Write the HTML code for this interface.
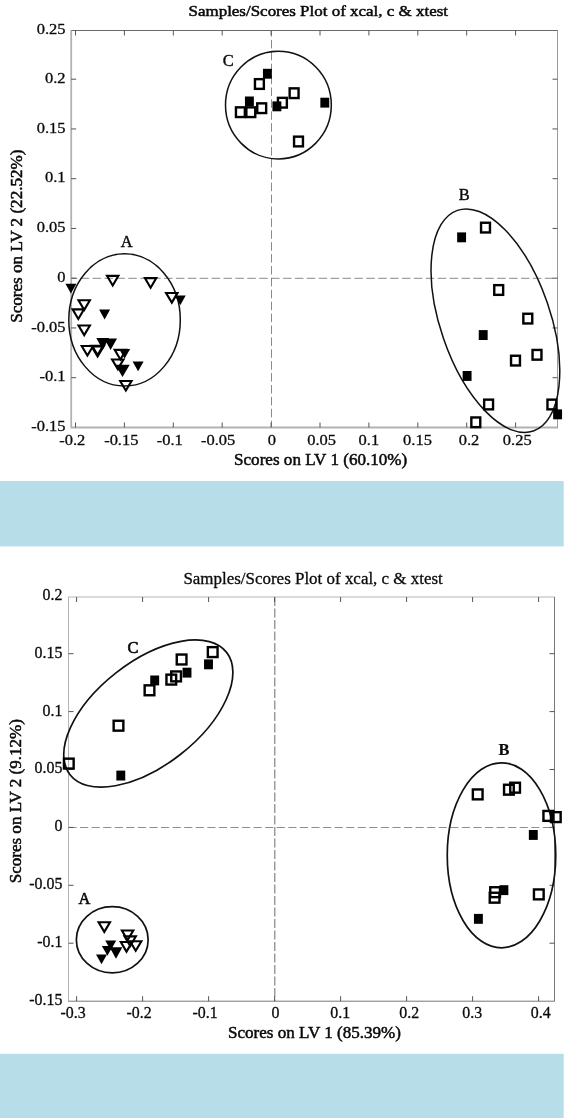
<!DOCTYPE html>
<html lang="en"><head><meta charset="utf-8"><title>Samples/Scores Plot</title>
<style>
html,body{margin:0;padding:0;background:#fff;}
body{width:565px;height:1118px;overflow:hidden;}
svg{display:block;}
text{font-family:"Liberation Serif","DejaVu Serif",serif;fill:#0a0a0a;stroke:#0a0a0a;stroke-width:.4px;}
.t{font-size:14.8px;stroke-width:.3px;}
.l{font-size:15.3px;stroke-width:.5px;}
.g{font-size:16.4px;stroke-width:.4px;}
.ax{stroke:#858585;stroke-width:1;fill:none;}
.tk{stroke:#555;stroke-width:1;fill:none;}
.ds{stroke:#6c6c6c;stroke-width:.8;fill:none;stroke-dasharray:8.5 3.4;}
.el{stroke:#111;stroke-width:1.5;fill:none;}
.fs{fill:#000;}
.os{fill:none;stroke:#000;stroke-width:2.4;}
.ft{fill:#000;}
.ot{fill:none;stroke:#000;stroke-width:2.1;stroke-linejoin:miter;}
.ot2{fill:none;stroke:#000;stroke-width:3.6;stroke-linejoin:miter;}
.ot3{fill:none;stroke:#000;stroke-width:2.9;stroke-linejoin:miter;}
</style></head><body>
<svg width="565" height="1118" viewBox="0 0 565 1118">
<rect x="0" y="0" width="565" height="1118" fill="#fff"/>
<rect x="0" y="481" width="563.7" height="65.4" fill="#b7dde8"/>
<rect x="0" y="1053.8" width="563.7" height="64.2" fill="#b7dde8"/>
<g>
<text class="l" style="font-size:15.3px;stroke-width:0.5px" x="188.5" y="15.8" textLength="259.5" lengthAdjust="spacingAndGlyphs">Samples/Scores Plot of xcal, c &amp; xtest</text>
<path class="ds" stroke-dashoffset="2.4" d="M71.2 278.3H557.5"/>
<path class="ds" stroke-dashoffset="2.5" d="M271.5 30.5V427.5"/>
<path fill="none" stroke="#6a6a6a" stroke-width="1" d="M70.7 30.5H558"/>
<path fill="none" stroke="#b2b2b2" stroke-width="1.8" d="M70.7 427.5H558"/>
<path fill="none" stroke="#b2b2b2" stroke-width="1.8" d="M71.2 30.5V427.5"/>
<path fill="none" stroke="#9a9a9a" stroke-width="1" d="M557.5 30.5V427.5"/>
<path class="tk" d="M75.5 427.5v-5M75.5 30.5v5M124.4 427.5v-5M124.4 30.5v5M173.3 427.5v-5M173.3 30.5v5M222.2 427.5v-5M222.2 30.5v5M271.1 427.5v-5M271.1 30.5v5M320 427.5v-5M320 30.5v5M368.9 427.5v-5M368.9 30.5v5M417.8 427.5v-5M417.8 30.5v5M466.7 427.5v-5M466.7 30.5v5M515.6 427.5v-5M515.6 30.5v5M71.2 79.2h5M557.5 79.2h-5M71.2 128.95h5M557.5 128.95h-5M71.2 178.7h5M557.5 178.7h-5M71.2 228.45h5M557.5 228.45h-5M71.2 278.2h5M557.5 278.2h-5M71.2 327.95h5M557.5 327.95h-5M71.2 377.7h5M557.5 377.7h-5"/>
<text class="t" style="font-size:14.6px" transform="translate(72.3 444.8) scale(1.13 1)" text-anchor="middle">-0.2</text>
<text class="t" style="font-size:14.6px" transform="translate(121.3 444.8) scale(1.13 1)" text-anchor="middle">-0.15</text>
<text class="t" style="font-size:14.6px" transform="translate(169.7 444.8) scale(1.13 1)" text-anchor="middle">-0.1</text>
<text class="t" style="font-size:14.6px" transform="translate(218.1 444.8) scale(1.13 1)" text-anchor="middle">-0.05</text>
<text class="t" style="font-size:14.6px" transform="translate(271.9 444.8) scale(1.13 1)" text-anchor="middle">0</text>
<text class="t" style="font-size:14.6px" transform="translate(321.6 444.8) scale(1.13 1)" text-anchor="middle">0.05</text>
<text class="t" style="font-size:14.6px" transform="translate(368.9 444.8) scale(1.13 1)" text-anchor="middle">0.1</text>
<text class="t" style="font-size:14.6px" transform="translate(417.5 444.8) scale(1.13 1)" text-anchor="middle">0.15</text>
<text class="t" style="font-size:14.6px" transform="translate(469 444.8) scale(1.13 1)" text-anchor="middle">0.2</text>
<text class="t" style="font-size:14.6px" transform="translate(517.2 444.8) scale(1.13 1)" text-anchor="middle">0.25</text>
<text class="t" style="font-size:14.6px" transform="translate(65.5 33.6) scale(1.13 1)" text-anchor="end">0.25</text>
<text class="t" style="font-size:14.6px" transform="translate(65.5 82.9) scale(1.13 1)" text-anchor="end">0.2</text>
<text class="t" style="font-size:14.6px" transform="translate(65.5 132.65) scale(1.13 1)" text-anchor="end">0.15</text>
<text class="t" style="font-size:14.6px" transform="translate(65.5 182.4) scale(1.13 1)" text-anchor="end">0.1</text>
<text class="t" style="font-size:14.6px" transform="translate(65.5 232.15) scale(1.13 1)" text-anchor="end">0.05</text>
<text class="t" style="font-size:14.6px" transform="translate(65.5 281.9) scale(1.13 1)" text-anchor="end">0</text>
<text class="t" style="font-size:14.6px" transform="translate(65.5 331.65) scale(1.13 1)" text-anchor="end">-0.05</text>
<text class="t" style="font-size:14.6px" transform="translate(65.5 381.4) scale(1.13 1)" text-anchor="end">-0.1</text>
<text class="t" style="font-size:14.6px" transform="translate(65.5 431.15) scale(1.13 1)" text-anchor="end">-0.15</text>
<text class="l" style="font-size:16.7px" x="234" y="464.6" textLength="173.3" lengthAdjust="spacingAndGlyphs">Scores on LV 1 (60.10%)</text>
<text class="l" style="font-size:16.2px" transform="translate(22.3 322.8) rotate(-90)" textLength="173.3" lengthAdjust="spacingAndGlyphs">Scores on LV 2 (22.52%)</text>
<ellipse class="el" style="stroke-width:1.5" cx="278.4" cy="105.1" rx="52.9" ry="53.8" transform="rotate(0 278.4 105.1)"/>
<ellipse class="el" style="stroke-width:1.5" cx="124.55" cy="319.9" rx="55.75" ry="66.1" transform="rotate(0 124.55 319.9)"/>
<ellipse class="el" style="stroke-width:1.5" cx="495.4" cy="320.7" rx="116.7" ry="54.9" transform="rotate(71 495.4 320.7)"/>
<text class="g" x="228.3" y="65.8" text-anchor="middle">C</text>
<text class="g" x="126.75" y="247.3" text-anchor="middle">A</text>
<text class="g" x="464.1" y="199.7" text-anchor="middle">B</text>
<rect class="fs" x="262.95" y="68.8" width="8.9" height="9.9"/>
<rect class="fs" x="244.95" y="96.5" width="8.9" height="9.9"/>
<rect class="fs" x="272.45" y="101.4" width="8.9" height="9.9"/>
<rect class="fs" x="320.35" y="97.7" width="8.9" height="9.9"/>
<rect class="os" x="254.95" y="79.15" width="8.9" height="9.7"/>
<rect class="os" x="289.65" y="88.35" width="8.9" height="9.7"/>
<rect class="os" x="277.95" y="97.85" width="8.9" height="9.7"/>
<rect class="os" x="257.25" y="103.35" width="8.9" height="9.7"/>
<rect class="os" x="235.95" y="107.35" width="8.9" height="9.7"/>
<rect class="os" x="246.35" y="107.35" width="8.9" height="9.7"/>
<rect class="os" x="294.05" y="136.65" width="8.9" height="9.7"/>
<rect class="fs" x="457.15" y="232.4" width="8.9" height="9.9"/>
<rect class="os" x="481.05" y="222.75" width="8.9" height="9.7"/>
<rect class="os" x="494.25" y="285.15" width="8.9" height="9.7"/>
<rect class="os" x="523.35" y="313.75" width="8.9" height="9.7"/>
<rect class="fs" x="478.75" y="330.1" width="8.9" height="9.9"/>
<rect class="os" x="532.55" y="349.95" width="8.9" height="9.7"/>
<rect class="os" x="511.05" y="355.75" width="8.9" height="9.7"/>
<rect class="fs" x="462.65" y="371" width="8.9" height="9.9"/>
<rect class="os" x="484.15" y="399.65" width="8.9" height="9.7"/>
<rect class="os" x="547.45" y="399.65" width="8.9" height="9.7"/>
<rect class="fs" x="553.15" y="409.4" width="8.9" height="9.9"/>
<rect class="os" x="471.35" y="417.45" width="8.9" height="9.7"/>
<path class="ot" d="M107 275.85h11.4l-5.7 9.6z"/>
<path class="ot" d="M144.9 278.15h11.4l-5.7 9.6z"/>
<path class="ot" d="M166.1 293.05h11.4l-5.7 9.6z"/>
<path class="ot" d="M78.5 300.25h11.4l-5.7 9.6z"/>
<path class="ot" d="M72.6 309.35h11.4l-5.7 9.6z"/>
<path class="ot" d="M78.5 325.55h11.4l-5.7 9.6z"/>
<path class="ot" d="M81.7 345.95h11.4l-5.7 9.6z"/>
<path class="ot3" d="M91.9 346.15h11.4l-5.7 9.6z"/>
<path class="ot" d="M114.7 349.85h11.4l-5.7 9.6z"/>
<path class="ot" d="M112.1 359.55h11.4l-5.7 9.6z"/>
<path class="ot" d="M120.15 380.95h11.4l-5.7 9.6z"/>
<path class="ft" d="M65.4 283.7h11l-5.5 9.8z"/>
<path class="ft" d="M174.7 295.4h11l-5.5 9.8z"/>
<path class="ft" d="M99.1 309.6h11l-5.5 9.8z"/>
<path class="ft" d="M119.1 349h11l-5.5 9.8z"/>
<path class="ft" d="M132.6 361.4h11l-5.5 9.8z"/>
<path class="ft" d="M96.3 338.05h12.8l-6.4 11.6z"/>
<path class="ft" d="M104.2 338.4h12.8l-6.4 11.6z"/>
<path class="ft" d="M115.3 364.75h14.4l-7.2 12.3z"/>
</g>
<g>
<text class="l" style="font-size:16.7px;stroke-width:0.3px" x="183.4" y="584.1" textLength="259.4" lengthAdjust="spacingAndGlyphs">Samples/Scores Plot of xcal, c &amp; xtest</text>
<path class="ds" style="stroke:#808080;stroke-width:.9;stroke-dasharray:8.1 3.47" stroke-dashoffset="0" d="M68.5 827.5H554.5"/>
<path class="ds" style="stroke:#787878;stroke-width:1.1;stroke-dasharray:9 2.5" stroke-dashoffset="0" d="M274.8 597V1001.2"/>
<path fill="none" stroke="#cecece" stroke-width="1.7" d="M68 597H555"/>
<path fill="none" stroke="#777" stroke-width="1" d="M68 1001.2H555"/>
<path fill="none" stroke="#b4b4b4" stroke-width="1" d="M68.5 597V1001.2"/>
<path fill="none" stroke="#777" stroke-width="1" d="M554.5 597V1001.2"/>
<path class="tk" d="M76.6 1001.2v-5M76.6 597v5M142.6 1001.2v-5M142.6 597v5M208.6 1001.2v-5M208.6 597v5M274.6 1001.2v-5M274.6 597v5M340.6 1001.2v-5M340.6 597v5M406.6 1001.2v-5M406.6 597v5M472.6 1001.2v-5M472.6 597v5M538.6 1001.2v-5M538.6 597v5M68.5 653.7h5M554.5 653.7h-5M68.5 711.6h5M554.5 711.6h-5M68.5 769.5h5M554.5 769.5h-5M68.5 827.4h5M554.5 827.4h-5M68.5 885.3h5M554.5 885.3h-5M68.5 943.2h5M554.5 943.2h-5"/>
<text class="t" style="font-size:15.9px" transform="translate(73 1018.1) scale(1 1)" text-anchor="middle">-0.3</text>
<text class="t" style="font-size:15.9px" transform="translate(139 1018.1) scale(1 1)" text-anchor="middle">-0.2</text>
<text class="t" style="font-size:15.9px" transform="translate(205 1018.1) scale(1 1)" text-anchor="middle">-0.1</text>
<text class="t" style="font-size:15.9px" transform="translate(275.4 1018.1) scale(1 1)" text-anchor="middle">0</text>
<text class="t" style="font-size:15.9px" transform="translate(340.3 1018.1) scale(1 1)" text-anchor="middle">0.1</text>
<text class="t" style="font-size:15.9px" transform="translate(409.2 1018.1) scale(1 1)" text-anchor="middle">0.2</text>
<text class="t" style="font-size:15.9px" transform="translate(472.3 1018.1) scale(1 1)" text-anchor="middle">0.3</text>
<text class="t" style="font-size:15.9px" transform="translate(540.7 1018.1) scale(1 1)" text-anchor="middle">0.4</text>
<text class="t" style="font-size:15.9px" transform="translate(62.4 600.3) scale(1 1)" text-anchor="end">0.2</text>
<text class="t" style="font-size:15.9px" transform="translate(62.4 657.6) scale(1 1)" text-anchor="end">0.15</text>
<text class="t" style="font-size:15.9px" transform="translate(62.4 715.5) scale(1 1)" text-anchor="end">0.1</text>
<text class="t" style="font-size:15.9px" transform="translate(62.4 773.4) scale(1 1)" text-anchor="end">0.05</text>
<text class="t" style="font-size:15.9px" transform="translate(62.4 831.3) scale(1 1)" text-anchor="end">0</text>
<text class="t" style="font-size:15.9px" transform="translate(62.4 889.2) scale(1 1)" text-anchor="end">-0.05</text>
<text class="t" style="font-size:15.9px" transform="translate(62.4 947.1) scale(1 1)" text-anchor="end">-0.1</text>
<text class="t" style="font-size:15.9px" transform="translate(62.4 1005) scale(1 1)" text-anchor="end">-0.15</text>
<text class="l" style="font-size:16.7px" x="228" y="1038.4" textLength="173" lengthAdjust="spacingAndGlyphs">Scores on LV 1 (85.39%)</text>
<text class="l" style="font-size:16.2px" transform="translate(20.9 883.3) rotate(-90)" textLength="164.2" lengthAdjust="spacingAndGlyphs">Scores on LV 2 (9.12%)</text>
<ellipse class="el" style="stroke-width:1.7" cx="148.3" cy="713.55" rx="99.35" ry="52" transform="rotate(-38 148.3 713.55)"/>
<ellipse class="el" style="stroke-width:1.7" cx="112.25" cy="939.7" rx="35.9" ry="33.1" transform="rotate(0 112.25 939.7)"/>
<ellipse class="el" style="stroke-width:1.7" cx="501.5" cy="855.3" rx="54.25" ry="92.5" transform="rotate(0 501.5 855.3)"/>
<text class="g" style="stroke-width:0.65px" x="132.9" y="652.8" text-anchor="middle">C</text>
<text class="g" style="stroke-width:0.55px" x="84.5" y="904" text-anchor="middle">A</text>
<text class="g" style="font-weight:bold;stroke-width:.2px" x="504" y="754.7" text-anchor="middle">B</text>
<rect class="os" x="207.85" y="647.15" width="9.7" height="9.9"/>
<rect class="os" x="176.75" y="654.55" width="9.7" height="9.9"/>
<rect class="fs" x="204.05" y="659.4" width="8.9" height="9.9"/>
<rect class="fs" x="182.55" y="667.7" width="8.9" height="9.9"/>
<rect class="os" x="171.25" y="671.45" width="9.7" height="9.9"/>
<rect class="os" x="166.45" y="674.65" width="9.7" height="9.9"/>
<rect class="fs" x="150.25" y="675.5" width="8.9" height="9.9"/>
<rect class="os" x="144.65" y="685.35" width="9.7" height="9.9"/>
<rect class="os" x="113.65" y="720.75" width="9.7" height="9.9"/>
<rect class="os" x="63.95" y="758.65" width="9.7" height="9.9"/>
<rect class="fs" x="116.35" y="770.6" width="8.9" height="9.9"/>
<rect class="os" x="472.85" y="789.45" width="9.7" height="9.9"/>
<rect class="os" x="504.05" y="784.75" width="9.7" height="9.9"/>
<rect class="os" x="510.25" y="782.75" width="9.7" height="9.9"/>
<rect class="os" x="543.45" y="810.95" width="9.7" height="9.9"/>
<rect class="os" x="550.95" y="812.15" width="9.7" height="9.9"/>
<rect class="fs" x="528.85" y="830" width="8.9" height="9.9"/>
<rect class="fs" x="499.45" y="885.2" width="8.9" height="9.9"/>
<rect class="os" x="490.25" y="887.25" width="9.7" height="9.9"/>
<rect class="os" x="489.75" y="892.75" width="9.7" height="9.9"/>
<rect class="os" x="533.95" y="889.45" width="9.7" height="9.9"/>
<rect class="fs" x="473.95" y="913.9" width="8.9" height="9.9"/>
<path class="ot" d="M98.6 922.25h11.4l-5.7 9.6z"/>
<path class="ot" d="M121.9 930.5h11.4l-5.7 9.6z"/>
<path class="ot" d="M124.5 936.4h11.4l-5.7 9.6z"/>
<path class="ot" d="M120.8 942h11.4l-5.7 9.6z"/>
<path class="ot" d="M130 941.2h11.4l-5.7 9.6z"/>
<path class="ft" d="M105.2 940.4h11l-5.5 9.8z"/>
<path class="ft" d="M101.9 945.9h11l-5.5 9.8z"/>
<path class="ft" d="M109.6 947.2h12.8l-6.4 11.6z"/>
<path class="ft" d="M96 954.4h11l-5.5 9.8z"/>
</g>
</svg>
</body></html>
